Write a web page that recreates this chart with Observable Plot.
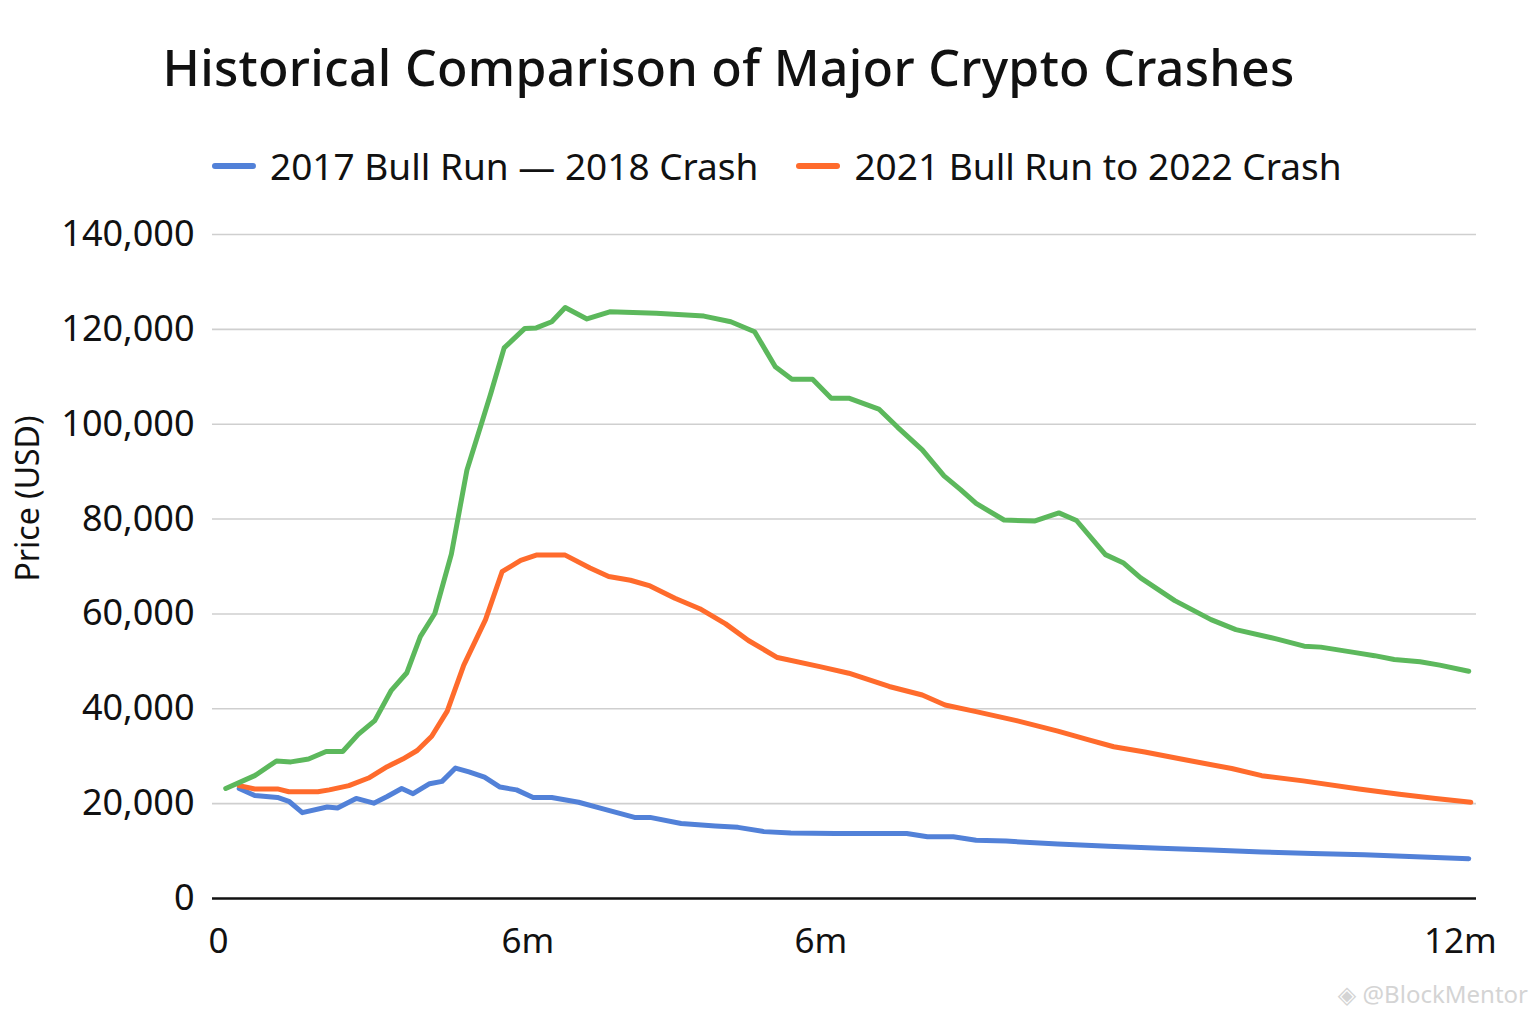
<!DOCTYPE html>
<html>
<head>
<meta charset="utf-8">
<script src="https://cdn.jsdelivr.net/npm/d3@7"></script>
<script src="https://cdn.jsdelivr.net/npm/@observablehq/plot@0.6"></script>
<style>
  html, body { margin: 0; padding: 0; background: #fff; }
  body { width: 1536px; height: 1024px; position: relative; overflow: hidden; font-family: "Noto Sans", "DejaVu Sans", sans-serif; color: #111; }
  #header { position: relative; height: 200px; }
  #title { position: absolute; left: 0; width: 1457px; top: 33px; text-align: center; font-size: 50px; font-weight: 500; letter-spacing: 0.3px; }
  #legend { position: absolute; top: 140px; left: 212px; display: flex; align-items: center; font-size: 37px; white-space: nowrap; }
  .sw { display: inline-block; width: 44px; height: 6px; border-radius: 3px; margin-right: 14px; }
  .item { display: flex; align-items: center; margin-right: 38px; }
  #chart svg { display: block; }
  #wm { position: absolute; right: 8px; bottom: 14px; font-size: 24px; color: #d4d4d4; }
</style>
</head>
<body>
<div id="header">
  <div id="title"></div>
  <div id="legend"></div>
</div>
<div id="chart"></div>
<div id="wm">◈ @BlockMentor</div>
<script>
const titleText = "Historical Comparison of Major Crypto Crashes";
const yLabel = "Price (USD)";
const seriesNames = ["2017 Bull Run — 2018 Crash", "2021 Bull Run to 2022 Crash", "Current Cycle"];
const seriesColors = ["#5281d8", "#ff6b2c", "#5cb85c"];
const legendSeries = [0, 1];

const xTickValues = [0, 2.99, 5.82, 12];
const xTickLabels = ["0", "6m", "6m", "12m"];
const yTickValues = [0, 20000, 40000, 60000, 80000, 100000, 120000, 140000];

// months since start, price (USD)
const blueMonths = [0.2, 0.35, 0.57, 0.68, 0.81, 1.05, 1.15, 1.33, 1.5, 1.63, 1.77, 1.88, 2.04, 2.16, 2.29, 2.42, 2.57, 2.72, 2.88, 3.04, 3.22, 3.48, 3.68, 3.85, 4.02, 4.17, 4.47, 4.8, 5.02, 5.27, 5.53, 5.96, 6.65, 6.85, 7.1, 7.32, 7.61, 8.11, 8.6, 9.1, 9.59, 10.08, 10.57, 11.07, 11.57, 12.08];
const blueValues = [23200, 21700, 21300, 20500, 18100, 19300, 19100, 21100, 20100, 21500, 23200, 22100, 24200, 24700, 27500, 26700, 25600, 23500, 22900, 21300, 21300, 20300, 19100, 18100, 17100, 17100, 15800, 15300, 15000, 14100, 13800, 13700, 13700, 13000, 13000, 12300, 12100, 11500, 11000, 10600, 10200, 9800, 9500, 9200, 8800, 8400];

const orangeMonths = [0.2, 0.35, 0.57, 0.68, 0.96, 1.07, 1.26, 1.45, 1.63, 1.78, 1.92, 2.06, 2.21, 2.37, 2.58, 2.74, 2.92, 3.07, 3.35, 3.59, 3.77, 3.98, 4.17, 4.41, 4.65, 4.9, 5.12, 5.4, 5.81, 6.09, 6.48, 6.8, 7.02, 7.32, 7.71, 8.11, 8.4, 8.65, 8.95, 9.3, 9.79, 10.08, 10.48, 11.02, 11.41, 11.76, 12.1];
const orangeValues = [23800, 23100, 23100, 22500, 22500, 22900, 23800, 25400, 27800, 29400, 31200, 34200, 39500, 49200, 58800, 68900, 71300, 72400, 72400, 69700, 67900, 67100, 65900, 63300, 61100, 57900, 54400, 50800, 48900, 47500, 44700, 42900, 40800, 39400, 37500, 35300, 33500, 32000, 30900, 29400, 27400, 25900, 24800, 23100, 22000, 21100, 20300];

const greenMonths = [0.07, 0.35, 0.56, 0.7, 0.87, 1.04, 1.2, 1.35, 1.51, 1.67, 1.82, 1.95, 2.09, 2.25, 2.4, 2.55, 2.63, 2.76, 2.96, 3.07, 3.22, 3.35, 3.56, 3.78, 4.23, 4.69, 4.95, 5.18, 5.38, 5.54, 5.74, 5.92, 6.09, 6.38, 6.56, 6.8, 7.01, 7.17, 7.32, 7.59, 7.89, 8.12, 8.29, 8.57, 8.74, 8.91, 9.24, 9.59, 9.83, 10.23, 10.49, 10.65, 10.97, 11.17, 11.36, 11.61, 11.8, 12.08];
const greenValues = [23200, 25900, 29000, 28800, 29400, 31000, 31000, 34600, 37500, 43900, 47600, 55200, 60100, 72600, 90300, 100800, 106400, 116100, 120200, 120300, 121600, 124600, 122200, 123700, 123400, 122800, 121600, 119500, 112100, 109500, 109500, 105500, 105500, 103200, 99400, 94600, 89100, 86200, 83300, 79800, 79600, 81300, 79700, 72500, 70800, 67600, 62800, 58800, 56700, 54700, 53200, 53000, 51900, 51200, 50400, 49900, 49200, 47900];

const seriesMonths = [blueMonths, orangeMonths, greenMonths];
const seriesValues = [blueValues, orangeValues, greenValues];

const data = [];
seriesMonths.forEach((ms, s) => ms.forEach((m, i) => data.push({series: seriesNames[s], month: m, price: seriesValues[s][i]})));

document.getElementById("title").textContent = titleText;
const legend = document.getElementById("legend");
legendSeries.forEach(s => {
  const it = document.createElement("div");
  it.className = "item";
  const sw = document.createElement("span");
  sw.className = "sw";
  sw.style.background = seriesColors[s];
  it.appendChild(sw);
  const t = document.createElement("span");
  t.textContent = seriesNames[s];
  it.appendChild(t);
  legend.appendChild(it);
});

const fmt = d3.format(",");
const chart = Plot.plot({
  width: 1536,
  height: 824,
  marginLeft: 212,
  marginRight: 60,
  marginTop: 34,
  marginBottom: 126,
  style: {fontFamily: "'Noto Sans', 'DejaVu Sans', sans-serif", fontSize: "34px", color: "#111", background: "#fff"},
  x: {domain: [-0.058, 12.155], ticks: xTickValues, tickFormat: (d, i) => xTickLabels[i], tickSize: 0, tickPadding: 30, label: null},
  y: {domain: [0, 140000], ticks: yTickValues, tickFormat: fmt, tickSize: 0, tickPadding: 18, label: null},
  color: {domain: seriesNames, range: seriesColors},
  marks: [
    Plot.gridY(yTickValues.filter(d => d > 0), {stroke: "#cfcfcf", strokeOpacity: 1, strokeWidth: 1.6}),
    Plot.axisY({ticks: yTickValues, tickFormat: fmt, tickSize: 0, tickPadding: 18, fontSize: 36, label: null}),
    Plot.axisX({ticks: xTickValues, tickFormat: (d, i) => xTickLabels[i], tickSize: 0, tickPadding: 30, fontSize: 35, label: null}),
    Plot.ruleY([0], {stroke: "#111", strokeWidth: 2.5}),
    Plot.line(data, {x: "month", y: "price", z: "series", stroke: "series", strokeWidth: 5, strokeLinejoin: "round", strokeLinecap: "round"}),
    Plot.text([yLabel], {frameAnchor: "left", dx: -184, dy: 15, rotate: -90, fontSize: 32, text: d => d, fill: "#111"})
  ]
});
document.getElementById("chart").appendChild(chart);
</script>
</body>
</html>
